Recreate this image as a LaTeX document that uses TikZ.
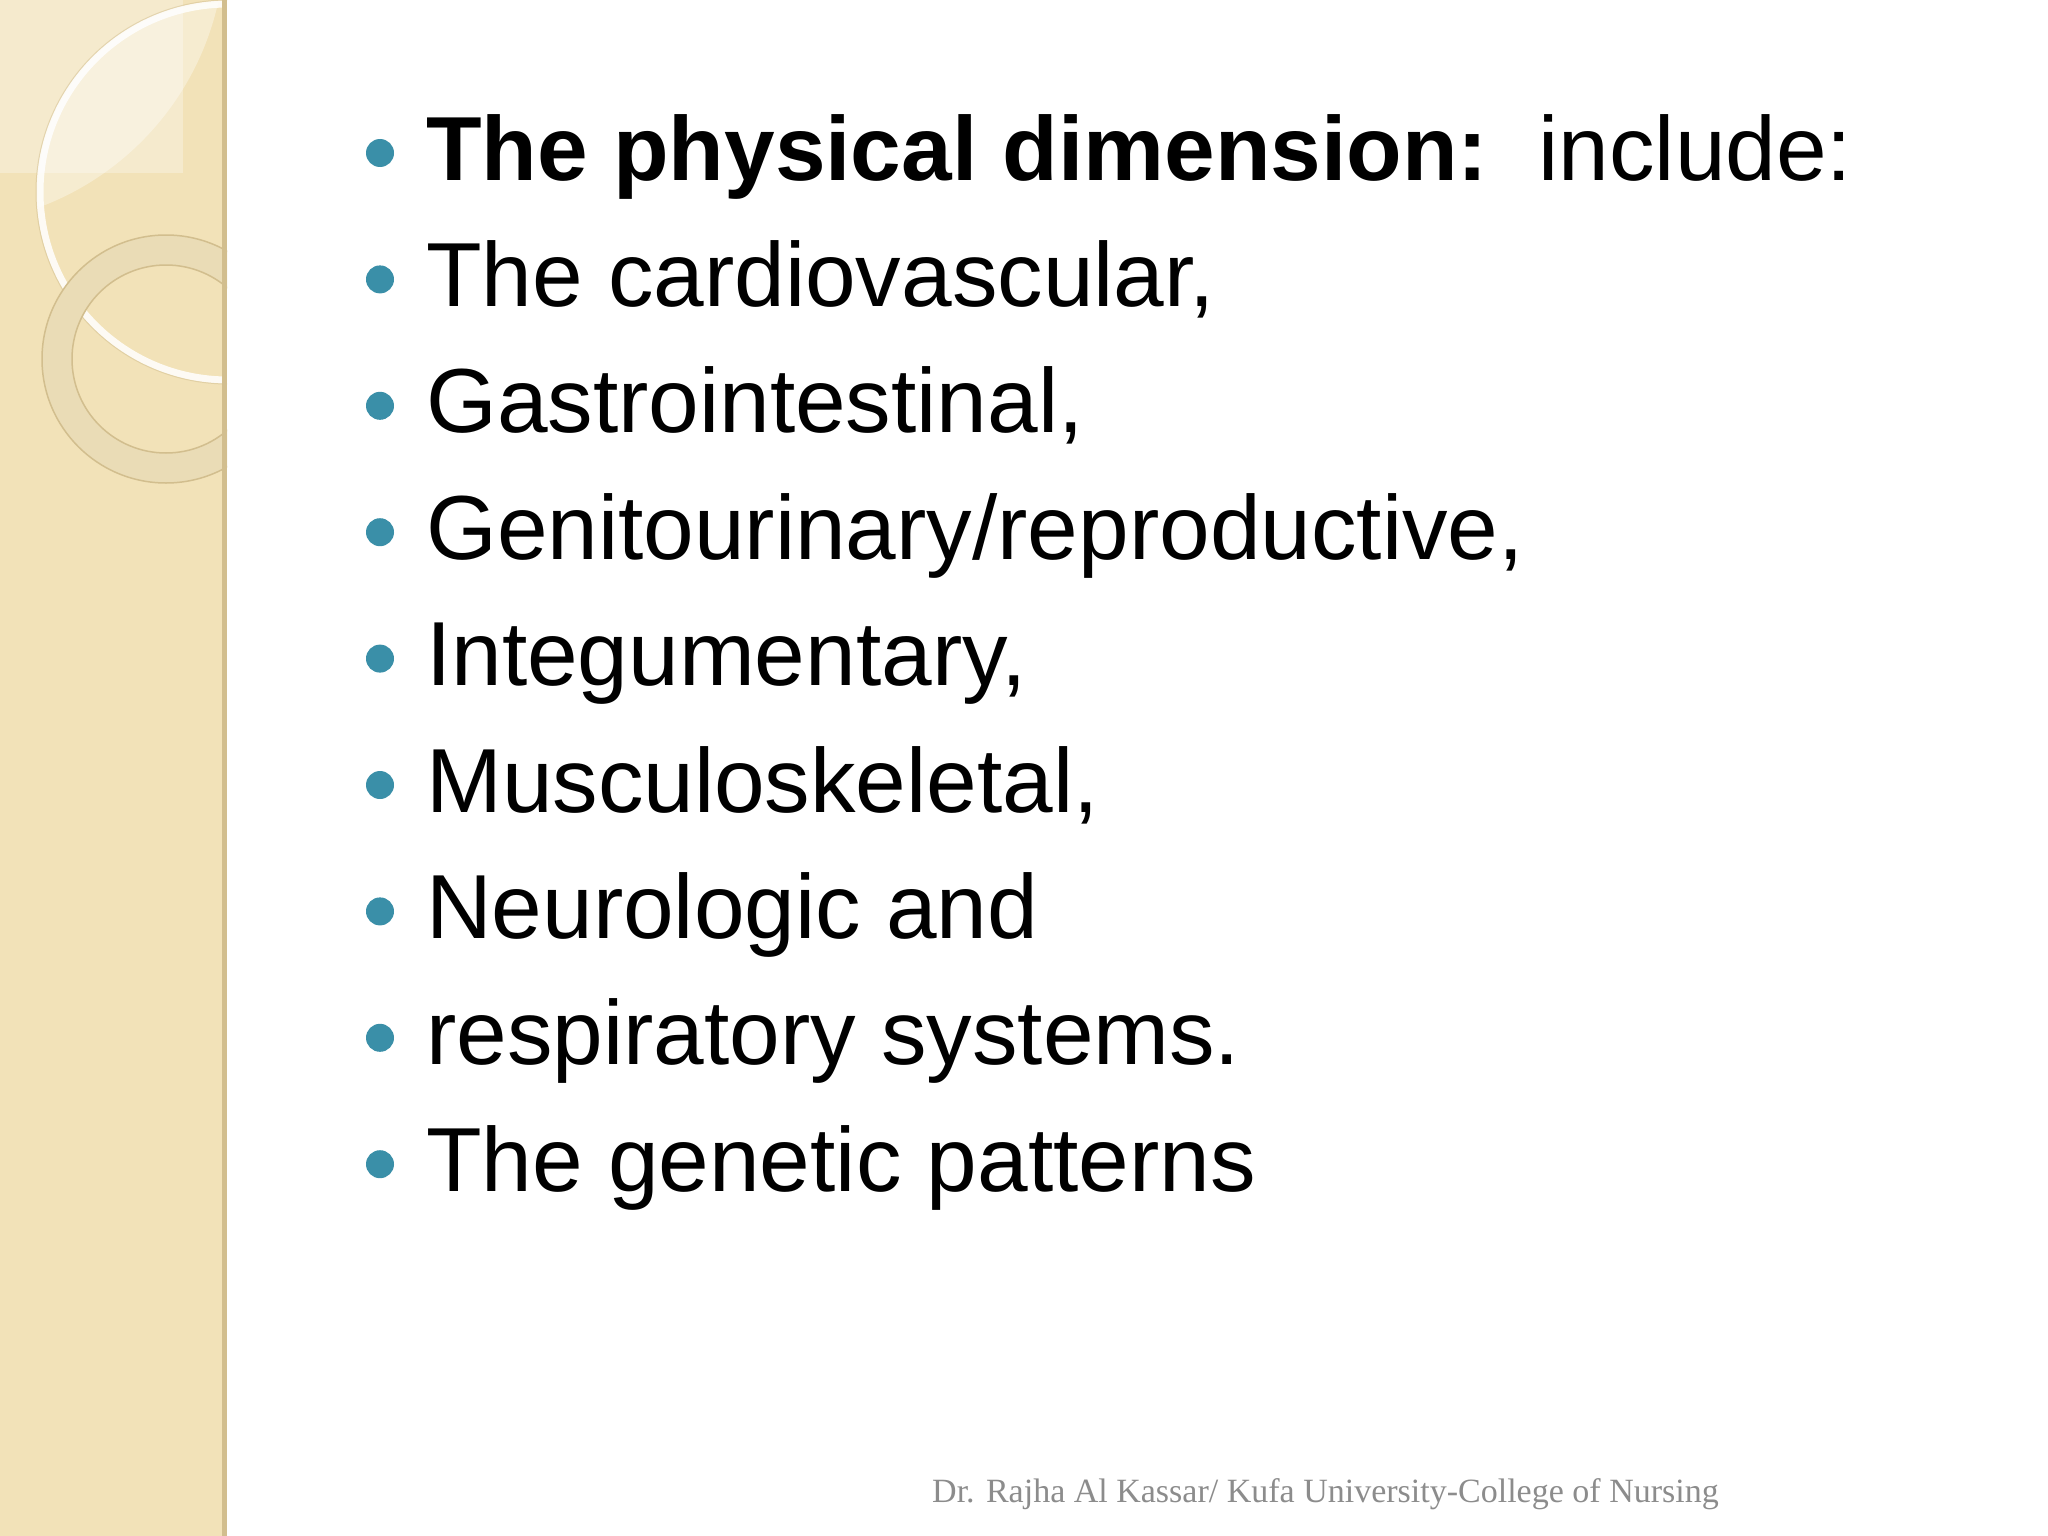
\documentclass[tikz,border=0pt]{standalone}
\usepackage{fontspec}
\setmainfont{Liberation Sans}
\newfontfamily\footfont{Liberation Serif}
\definecolor{strip}{HTML}{F2E2B8}
\definecolor{stripdark}{HTML}{D2BE8E}
\definecolor{ringc}{HTML}{EADCB6}
\definecolor{bul}{HTML}{3A8FA8}
\definecolor{foot}{HTML}{8C8C8C}
\tikzset{item/.style={anchor=base west,font=\fontsize{91}{110}\selectfont,inner sep=0pt},
bdot/.style={circle,fill=bul,minimum size=28pt,inner sep=0pt}}
\begin{document}
\begin{tikzpicture}[x=1pt,y=-1pt]
\useasboundingbox (0,0) rectangle (2048,1536);
\fill[white] (0,0) rectangle (2048,1536);
\begin{scope}
\clip (0,0) rectangle (227,1536);
\fill[strip] (0,0) rectangle (227,1536);
\fill[white,opacity=0.3] (0,0) rectangle (183,173);
\begin{scope}
\clip (228,192) circle (190);
\fill[white,opacity=0.35] (-60,-60) circle (285);
\end{scope}
\draw[white,opacity=0.85,line width=7pt] (228,192) circle (188);
\draw[stripdark,opacity=0.5,line width=1pt] (228,192) circle (192);
\draw[ringc,line width=30pt] (166,359) circle (109);
\draw[stripdark,line width=1.5pt] (166,359) circle (124);
\draw[stripdark,line width=1.5pt] (166,359) circle (94);
\fill[stripdark] (222,0) rectangle (227,1536);
\end{scope}
\foreach \t [count=\i from 0] in {{\textbf{The physical dimension:}\ \ include:},{The cardiovascular,},{Gastrointestinal,},{Genitourinary/reproductive,},{Integumentary,},{Musculoskeletal,},{Neurologic and},{respiratory systems.},{The genetic patterns}}{
  \node[bdot] (b\i) at (380,180+126.4*\i-27) {};
  \node[item] (t\i) at (426,180+126.4*\i) {\t};
}
\node[anchor=base west,inner sep=0pt,text=foot,font=\footfont\fontsize{34}{38}\selectfont] (ft) at (932,1502) {Dr. Rajha Al Kassar/ Kufa University-College of Nursing};
\end{tikzpicture}
\end{document}
